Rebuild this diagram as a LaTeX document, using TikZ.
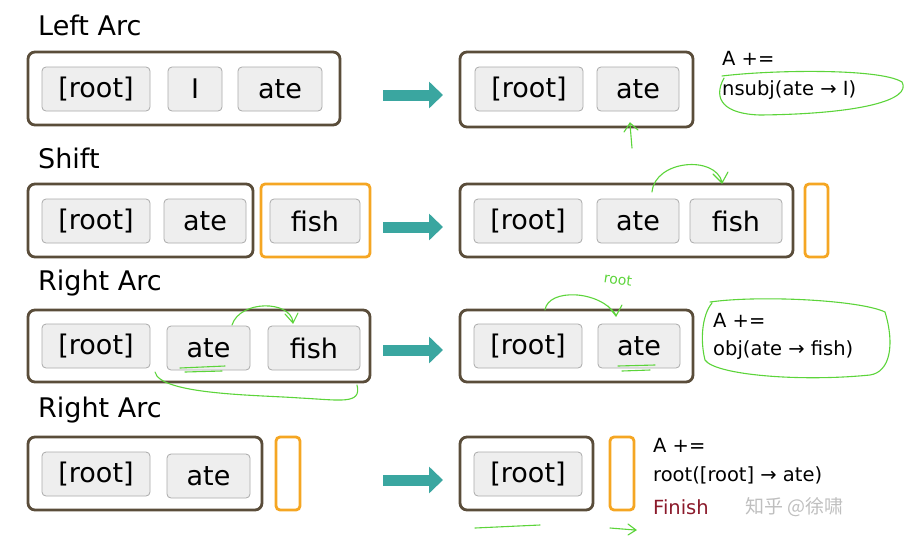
\documentclass[tikz,border=0pt]{standalone}
\usepackage{fontspec}
\setmainfont{DejaVu Sans}
\newfontfamily\cjk{Noto Sans CJK SC}
\usetikzlibrary{arrows.meta}
\definecolor{frame}{HTML}{5A4D3A}
\definecolor{tok}{HTML}{EEEEEE}
\definecolor{tokb}{HTML}{AAAAAA}
\definecolor{teal}{HTML}{3AA6A0}
\definecolor{orng}{HTML}{F5A623}
\definecolor{fin}{HTML}{8B1A2B}
\definecolor{grn}{HTML}{5CD43A}
\tikzset{
  frm/.style={draw=frame,line width=2.8pt,rounded corners=7pt},
  obox/.style={draw=orng,line width=2.8pt,rounded corners=4pt},
  tokn/.style={draw=tokb,fill=tok,line width=0.8pt,rounded corners=4pt},
  toklab/.style={font=\fontsize{27}{29}\selectfont,inner sep=0pt},
  ttl/.style={font=\fontsize{27}{29}\selectfont,anchor=west,inner sep=0pt},
  ann/.style={font=\fontsize{19.5}{21}\selectfont,anchor=west,inner sep=0pt},
  bigarrow/.style={draw=teal,line width=11pt,-{Triangle[length=14pt,width=26pt]}},
  hand/.style={draw=grn,line width=1.1pt,line cap=round}
}
\newcommand{\tokbox}[5]{%
  \draw[tokn] (#1,#2) rectangle (#3,#4);
  \node[toklab] at ({(#1+#3)/2},{(#2+#4)/2}) {#5};}
\begin{document}
\begin{tikzpicture}[x=1pt,y=-1pt]
\useasboundingbox (0,0) rectangle (910,544);
% Row 1
\node[ttl] (t1) at (38,25) {Left Arc};
\draw[frm] (28,52) rectangle (340,125);
\tokbox{42}{67}{150}{111}{[root]}
\tokbox{168}{67}{222}{111}{I}
\tokbox{238}{67}{322}{111}{ate}
\coordinate (a1s) at (383,95); \coordinate (a1e) at (443,95);
\draw[bigarrow] (a1s) -- (a1e);
\draw[frm] (460,52) rectangle (693,127);
\tokbox{475}{67}{583}{111}{[root]}
\tokbox{597}{67}{679}{111}{ate}
\node[ann] (n1) at (722,58) {A +=};
\node[ann] (n1b) at (722,90) {nsubj(ate → I)};
\draw[hand] (722,76) .. controls (770,70) and (880,68) .. (902,82) .. controls (912,100) and (860,114) .. (760,115) .. controls (725,114) and (712,100) .. (724,78);
\draw[hand] (632,148) -- (630,124) (624,132) -- (630,123) -- (638,130);
% Row 2
\node[ttl] (t2) at (38,158) {Shift};
\draw[frm] (28,184) rectangle (253,257);
\tokbox{42}{199}{150}{243}{[root]}
\tokbox{164}{199}{246}{243}{ate}
\draw[obox] (261,184) rectangle (370,257);
\tokbox{270}{199}{360}{243}{fish}
\coordinate (a2s) at (383,227); \coordinate (a2e) at (443,227);
\draw[bigarrow] (a2s) -- (a2e);
\draw[frm] (460,184) rectangle (793,257);
\tokbox{474}{199}{582}{243}{[root]}
\tokbox{597}{199}{679}{243}{ate}
\tokbox{690}{199}{782}{243}{fish}
\draw[obox] (805,184) rectangle (828,257);
\draw[hand] (652,192) .. controls (655,160) and (715,155) .. (722,182) (713,174) -- (722,183) -- (728,172);
% Row 3
\node[ttl] (t3) at (38,283) {Right Arc};
\draw[frm] (28,310) rectangle (370,382);
\tokbox{42}{324}{150}{368}{[root]}
\tokbox{167}{326}{250}{370}{ate}
\tokbox{268}{326}{360}{370}{fish}
\coordinate (a3s) at (383,350); \coordinate (a3e) at (443,350);
\draw[bigarrow] (a3s) -- (a3e);
\draw[frm] (460,310) rectangle (693,382);
\tokbox{474}{324}{582}{368}{[root]}
\tokbox{598}{324}{680}{368}{ate}
\node[ann] (n3) at (713,320) {A +=};
\node[ann] (n3b) at (713,350) {obj(ate → fish)};
\draw[hand] (710,302) .. controls (760,295) and (860,300) .. (885,312) .. controls (895,345) and (890,372) .. (870,375) .. controls (800,382) and (715,375) .. (705,360) .. controls (700,340) and (702,315) .. (712,303);
\draw[hand] (232,325) .. controls (240,300) and (290,300) .. (293,322) (285,314) -- (293,323) -- (298,313);
\draw[hand] (155,372) .. controls (160,395) and (260,395) .. (300,398) .. controls (340,400) and (362,405) .. (357,385);
\draw[hand] (180,368) -- (225,366) (185,372) -- (222,371);
\draw[hand] (545,310) .. controls (548,288) and (600,290) .. (616,315) (608,306) -- (616,316) -- (622,305);
\node[font=\fontsize{14}{15}\selectfont,text=grn,rotate=-8] (rt) at (618,280) {root};
\draw[hand] (618,366) -- (655,365) (622,371) -- (650,370);
% Row 4
\node[ttl] (t4) at (38,410) {Right Arc};
\draw[frm] (28,437) rectangle (262,510);
\tokbox{42}{452}{150}{496}{[root]}
\tokbox{167}{454}{250}{498}{ate}
\draw[obox] (276,437) rectangle (300,510);
\coordinate (a4s) at (383,480); \coordinate (a4e) at (443,480);
\draw[bigarrow] (a4s) -- (a4e);
\draw[frm] (460,437) rectangle (593,510);
\tokbox{474}{452}{582}{496}{[root]}
\draw[obox] (610,437) rectangle (634,510);
\node[ann] (n4) at (653,445) {A +=};
\node[ann] (n4b) at (653,475) {root([root] → ate)};
\node[ann,text=fin] (n4c) at (653,507) {Finish};
\node[anchor=west,inner sep=0pt,text=gray!50,font=\cjk\fontsize{19}{21}\selectfont] (wm) at (745,507) {知乎 @徐啸};
\draw[hand] (475,528) -- (540,525) (610,528) -- (635,530) (628,524) -- (636,530) -- (628,535);
\end{tikzpicture}
\end{document}
